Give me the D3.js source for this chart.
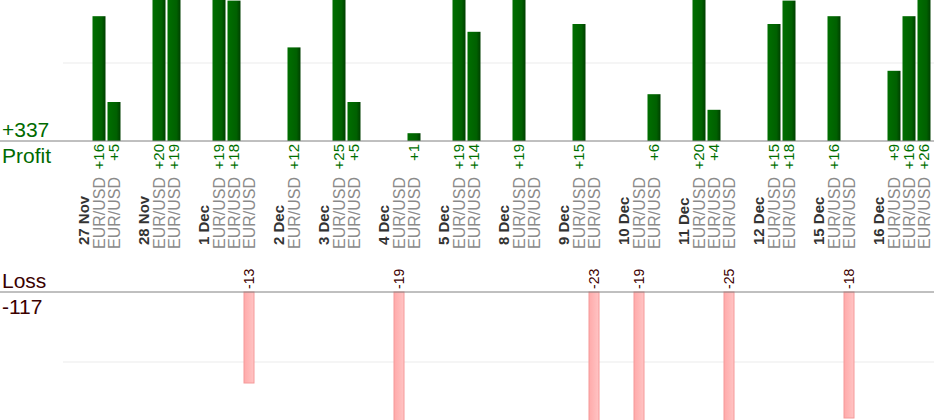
<!DOCTYPE html>
<html>
<head>
<script src="https://d3js.org/d3.v7.min.js"></script>
<style>
  body { margin: 0; background: #fff; font-family: Arial, "Liberation Sans", sans-serif; }
</style>
</head>
<body>
<script>
// each date is followed by its trades (symbol, pips); a blank slot separates days
var dates = ["27 Nov", "28 Nov", "1 Dec", "2 Dec", "3 Dec", "4 Dec", "5 Dec", "8 Dec", "9 Dec", "10 Dec", "11 Dec", "12 Dec", "15 Dec", "16 Dec"];
var tradePips = [
  [16, 5], [20, 19], [19, 18, -13], [12], [25, 5], [-19, 1], [19, 14],
  [19, 0], [15, -23], [-19, 6], [20, 4, -25], [15, 18], [16, -18], [9, 16, 26]
];
var symbol = "EUR/USD";
var totalProfit = "+337", totalLoss = "-117";

var W = 934, H = 420;
var baseP = 141, baseL = 292;

// build slot list
var slots = [];
dates.forEach(function(d, i) {
  slots.push({type: "date", label: d});
  tradePips[i].forEach(function(p) { slots.push({type: "trade", pips: p}); });
  if (i < dates.length - 1) slots.push({type: "blank"});
});
slots.forEach(function(s, i) { s.i = i; });
var trades = slots.filter(function(s) { return s.type === "trade"; });

var x = d3.scaleLinear().domain([0, slots.length - 1]).range([84, 924]);
var yP = d3.scaleLinear().domain([0, 10]).range([baseP, baseP - 78]);
var yL = d3.scaleLinear().domain([0, 10]).range([baseL, baseL + 70]);

var svg = d3.select("body").append("svg").attr("width", W).attr("height", H);

var defs = svg.append("defs");
var gp = defs.append("linearGradient").attr("id", "gp");
gp.append("stop").attr("offset", "0%").attr("stop-color", "#006f00");
gp.append("stop").attr("offset", "70%").attr("stop-color", "#006000");
gp.append("stop").attr("offset", "100%").attr("stop-color", "#003f00");
var gl = defs.append("linearGradient").attr("id", "gl");
gl.append("stop").attr("offset", "0%").attr("stop-color", "#ffaaaa");
gl.append("stop").attr("offset", "100%").attr("stop-color", "#ffc4c4");

// grid lines
svg.append("line").attr("x1", 63).attr("x2", W).attr("y1", yP(10)).attr("y2", yP(10)).attr("stroke", "#ebebeb");
svg.append("line").attr("x1", 63).attr("x2", W).attr("y1", yL(10)).attr("y2", yL(10)).attr("stroke", "#ebebeb");

// profit bars
svg.selectAll(".pbar").data(trades.filter(function(t) { return t.pips > 0; }))
  .enter().append("rect")
  .attr("x", function(d) { return x(d.i) - 6.5; })
  .attr("width", 13)
  .attr("y", function(d) { return Math.max(0, yP(d.pips)); })
  .attr("height", function(d) { return baseP - Math.max(0, yP(d.pips)); })
  .attr("fill", "url(#gp)");

// loss bars
svg.selectAll(".lbar").data(trades.filter(function(t) { return t.pips < 0; }))
  .enter().append("rect")
  .attr("x", function(d) { return x(d.i) - 5; })
  .attr("width", 10)
  .attr("y", baseL)
  .attr("height", function(d) { return Math.min(H + 5, yL(-d.pips)) - baseL; })
  .attr("fill", "url(#gl)")
  .attr("stroke", "#f59a9a")
  .attr("stroke-width", 1);

// baselines
svg.append("line").attr("x1", 0).attr("x2", W).attr("y1", baseP).attr("y2", baseP).attr("stroke", "#808080");
svg.append("line").attr("x1", 0).attr("x2", W).attr("y1", baseL).attr("y2", baseL).attr("stroke", "#808080");

function vtext(px, py, txt, anchor) {
  return svg.append("text")
    .attr("transform", "translate(" + px + "," + py + ") rotate(-90)")
    .attr("text-anchor", anchor)
    .attr("dy", "0.35em")
    .text(txt);
}

// value labels
trades.forEach(function(t) {
  if (t.pips > 0) {
    vtext(x(t.i), baseP + 3, "+" + t.pips, "end").attr("fill", "#007000").attr("font-size", 15);
  } else if (t.pips < 0) {
    vtext(x(t.i), baseL - 3, String(t.pips), "start").attr("fill", "#400000").attr("font-size", 14);
  }
  vtext(x(t.i), 249, symbol, "start").attr("fill", "#8a8a8a").attr("font-size", 16);
});

// date labels
slots.filter(function(s) { return s.type === "date"; }).forEach(function(s) {
  vtext(x(s.i), 245, s.label, "start").attr("fill", "#333").attr("font-size", 15).attr("font-weight", "bold");
});

// totals
svg.append("text").attr("x", 2).attr("y", 137).attr("font-size", 21).attr("fill", "#006a00").text(totalProfit);
svg.append("text").attr("x", 2).attr("y", 163).attr("font-size", 21).attr("fill", "#006a00").text("Profit");
svg.append("text").attr("x", 2).attr("y", 288).attr("font-size", 21).attr("fill", "#3a0000").text("Loss");
svg.append("text").attr("x", 2).attr("y", 314).attr("font-size", 21).attr("fill", "#3a0000").text(totalLoss);
</script>
</body>
</html>
